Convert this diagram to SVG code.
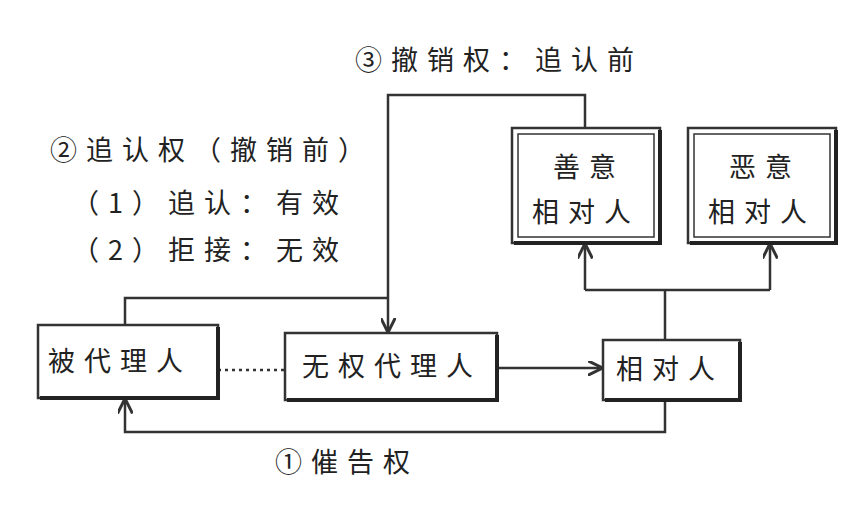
<svg xmlns="http://www.w3.org/2000/svg" width="863" height="514" viewBox="0 0 863 514">
<style>
.box{fill:#fff;stroke:#333;stroke-width:2.5}
.sh{fill:none;stroke:#222;stroke-width:4}
.t{font-family:"Noto Sans CJK SC","Liberation Sans",sans-serif;fill:#222;font-size:27px;letter-spacing:9px}
.c{fill:none;stroke:#333;stroke-width:2.5}
</style>
<defs><marker id="a" viewBox="0 0 10 10" refX="9" refY="5" markerWidth="6" markerHeight="6" orient="auto"><path d="M0,0 L10,5 L0,10" fill="none" stroke="#333" stroke-width="2"/></marker></defs>
<rect width="863" height="514" fill="#fff"/>
<g id="connectors">
<line x1="218" y1="370" x2="285" y2="370" class="c" stroke-dasharray="3,4"/>
<line x1="497" y1="368" x2="601" y2="368" class="c" marker-end="url(#a)"/>
<polyline points="665,400 665,432 125,432 125,400" class="c" marker-end="url(#a)"/>
<polyline points="125,325 125,298 388,298" class="c"/>
<polyline points="585,128 585,95 388,95 388,331" class="c" marker-end="url(#a)"/>
<line x1="665" y1="340" x2="665" y2="290" class="c"/>
<line x1="585" y1="290" x2="770" y2="290" class="c"/>
<line x1="585" y1="290" x2="585" y2="245" class="c" marker-end="url(#a)"/>
<line x1="770" y1="290" x2="770" y2="245" class="c" marker-end="url(#a)"/>
</g>
<g id="n1"><rect x="38" y="325" width="180" height="73" class="box"/><polyline points="218,327 218,398 40,398" class="sh"/><text x="48" y="371" class="t">被代理人</text></g>
<g id="n2"><rect x="285" y="333" width="212" height="67" class="box"/><polyline points="497,335 497,400 287,400" class="sh"/><text x="302" y="376" class="t">无权代理人</text></g>
<g id="n3"><rect x="603" y="340" width="137" height="60" class="box"/><polyline points="740,342 740,400 605,400" class="sh"/><text x="616" y="379" class="t">相对人</text></g>
<g id="n4"><rect x="512" y="128" width="148" height="115" class="box"/><rect x="518" y="134" width="136" height="103" fill="none" stroke="#333" stroke-width="1.5"/><polyline points="660,130 660,243 514,243" class="sh"/><text x="553" y="177" class="t">善意</text><text x="532" y="222" class="t">相对人</text></g>
<g id="n5"><rect x="688" y="128" width="148" height="115" class="box"/><rect x="694" y="134" width="136" height="103" fill="none" stroke="#333" stroke-width="1.5"/><polyline points="836,130 836,243 690,243" class="sh"/><text x="729" y="177" class="t">恶意</text><text x="708" y="222" class="t">相对人</text></g>
<text x="355" y="70" class="t">③撤销权：追认前</text>
<text x="50" y="160" class="t">②追认权（撤销前）</text>
<text x="72" y="213" class="t">（1）追认：有效</text>
<text x="72" y="260" class="t">（2）拒接：无效</text>
<text x="275" y="472" class="t">①催告权</text>
</svg>
